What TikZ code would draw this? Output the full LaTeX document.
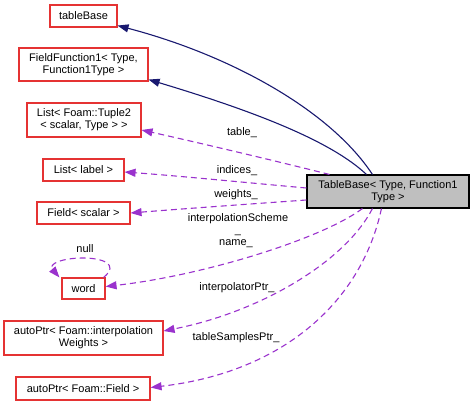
\documentclass[tikz,border=0pt]{standalone}
\usepackage{fontspec}
\setmainfont{Liberation Sans}
\usetikzlibrary{arrows.meta,calc}
\definecolor{edgeblue}{HTML}{191970}
\definecolor{edgepurple}{HTML}{9A32CD}
\definecolor{boxred}{HTML}{E53333}
\definecolor{boxgray}{HTML}{BFBFBF}
\tikzset{
  cls/.style={draw=boxred, line width=1.1pt, fill=white, inner sep=0pt, align=center,
    font=\fontsize{11}{12}\selectfont},
  mainbox/.style={draw=black, line width=1.1pt, fill=boxgray, inner sep=0pt, align=center,
    font=\fontsize{11}{12}\selectfont},
  inherit/.style={draw=edgeblue, line width=1.1pt, -{Triangle[length=11pt,width=8pt]}},
  usage/.style={draw=edgepurple, line width=1.1pt, dash pattern=on 6pt off 4pt,
    -{Triangle[length=11pt,width=8pt]}},
  elabel/.style={inner sep=0pt, align=center, font=\fontsize{11}{12}\selectfont},
}
\begin{document}
\begin{tikzpicture}[x=1pt,y=-1pt]
\useasboundingbox (0,0) rectangle (474,404);
\node[cls, minimum width=67pt, minimum height=22pt] (tableBase) at (83.5,16) {tableBase};
\node[cls, minimum width=129pt, minimum height=33pt] (FF) at (83.5,64.5) {FieldFunction1\textless{} Type,\\Function1Type \textgreater{}};
\node[cls, minimum width=114pt, minimum height=34pt] (LT) at (84,120) {List\textless{} Foam::Tuple2\\\textless{} scalar, Type \textgreater{} \textgreater{}};
\node[cls, minimum width=81pt, minimum height=22pt] (LL) at (83.5,170) {List\textless{} label \textgreater{}};
\node[cls, minimum width=93pt, minimum height=22pt] (FS) at (83.5,213) {Field\textless{} scalar \textgreater{}};
\node[cls, minimum width=43pt, minimum height=21pt] (word) at (83.5,288.5) {word};
\node[cls, minimum width=159pt, minimum height=34pt] (API) at (83.5,338) {autoPtr\textless{} Foam::interpolation\\Weights \textgreater{}};
\node[cls, minimum width=134pt, minimum height=23pt] (APF) at (83,388.5) {autoPtr\textless{} Foam::Field \textgreater{}};
\node[mainbox, minimum width=162pt, minimum height=33pt] (TB) at (388,191.5) {TableBase\textless{} Type, Function1\\Type \textgreater{}};

% inheritance
\draw[inherit] ($(TB.north west)+(66,0)$) .. controls (330,110) and (230,55) .. ($(tableBase.south east)+(0,-2)$);
\draw[inherit] ($(TB.north west)+(60,0)$) .. controls (330,140) and (250,110) .. ($(FF.south east)+(0,-2)$);

% usage
\draw[usage] ($(TB.north west)+(23,0)$) .. controls (280,162) and (200,143) .. ($(LT.east)+(0,10)$);
\draw[usage] ($(TB.west)+(0,-3.5)$) .. controls (250,183) and (180,176) .. ($(LL.east)+(0,2)$);
\draw[usage] ($(TB.west)+(0,8.5)$) .. controls (250,204) and (180,209) .. (FS.east);
\draw[usage] ($(TB.south west)+(56,0)$) .. controls (320,240) and (200,276) .. ($(word.east)+(0,-2)$);
\draw[usage] ($(TB.south west)+(66,0)$) .. controls (345,262) and (260,312) .. ($(API.east)+(0,-7)$);
\draw[usage] ($(TB.south west)+(75,0)$) .. controls (362,300) and (285,372) .. ($(APF.east)+(0,-1)$);
\draw[usage] ($(word.north east)+(-2,0)$) .. controls (120,264) and (102,258) .. (83,258)
   .. controls (62,258) and (48,264) .. ($(word.north west)+(-2,0)$);

% labels
\node[elabel] (ltable) at (242,133) {table\_};
\node[elabel] (lindices) at (237,171) {indices\_};
\node[elabel] (lweights) at (236,195) {weights\_};
\node[elabel] (linterp) at (238,225) {interpolationScheme\\\_};
\node[elabel] (lname) at (236,244) {name\_};
\node[elabel] (lnull) at (85,249) {null};
\node[elabel] (linterpPtr) at (237,288) {interpolatorPtr\_};
\node[elabel] (lsamples) at (236,338) {tableSamplesPtr\_};
\end{tikzpicture}
\end{document}
